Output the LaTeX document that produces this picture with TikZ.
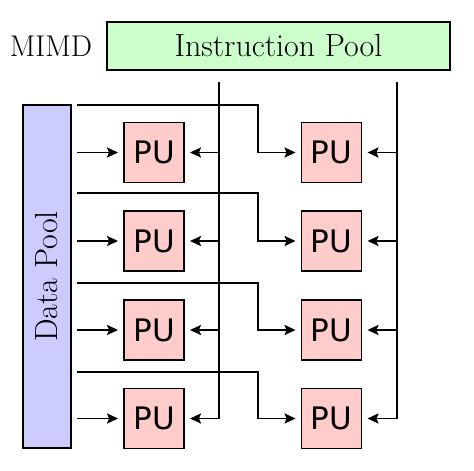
\documentclass[tikz,border=0pt]{standalone}
\usepackage{fontspec}
\newfontfamily\pufont{DejaVu Sans}
\usetikzlibrary{arrows.meta,calc}
\definecolor{ipgreen}{HTML}{CCFFCC}
\definecolor{dpblue}{HTML}{CCCCFF}
\definecolor{pupink}{HTML}{FFCCCC}
\begin{document}
\begin{tikzpicture}[x=1pt,y=-1pt,
  poolbox/.style={draw=black,line width=1.9pt,inner sep=0pt,
    font=\fontsize{32}{38}\selectfont},
  pubox/.style={draw=black,line width=1.9pt,fill=pupink,minimum width=60pt,
    minimum height=60pt,inner sep=0pt,font=\pufont\fontsize{31}{36}\selectfont},
  wire/.style={line width=1.9pt},
  arr/.style={wire,-{Stealth[length=11pt,width=10pt,inset=2pt]},shorten >=5pt}]
\useasboundingbox[fill=white] (0,0) rectangle (474,471);
\node[font=\fontsize{30}{36}\selectfont] (mimd) at (51,46) {MIMD};
\node[poolbox,fill=ipgreen,minimum width=343pt,minimum height=48pt] (ip) at (278.5,46) {Instruction Pool};
\node[poolbox,fill=dpblue,minimum width=343pt,minimum height=48pt,rotate=90] (dp) at (47,276.5) {Data Pool};
% PUs
\foreach \i/\y in {1/152.5,2/241,3/330,4/418.5}{
  \node[pubox] (pl\i) at (154,\y) {PU};
  \node[pubox] (pr\i) at (331.5,\y) {PU};
}
% instruction buses
\coordinate (ia) at (219,82);
\coordinate (ib) at (397,82);
\draw[arr] (ia) |- (pl4.east);
\draw[arr] (ib) |- (pr4.east);
\foreach \i in {1,2,3}{
  \draw[arr] (ia |- pl\i.east) -- (pl\i.east);
  \draw[arr] (ib |- pr\i.east) -- (pr\i.east);
}
% data lines
\foreach \i/\y in {1/105,2/193,3/283,4/372}{
  \coordinate (d\i) at (77,\y);
  \draw[arr] (d\i) -- ++(181,0) |- (pr\i.west);
  \draw[arr] (d\i |- pl\i.west) -- (pl\i.west);
}
\end{tikzpicture}
\end{document}
